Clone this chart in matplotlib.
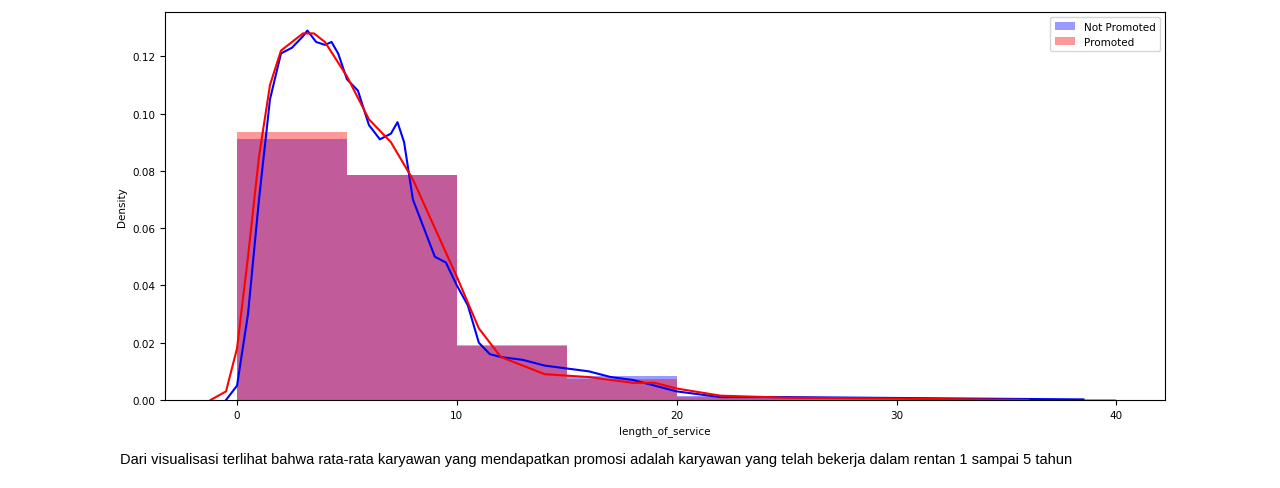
import matplotlib
matplotlib.use("Agg")
import matplotlib.pyplot as plt
import numpy as np

bin_edges = [0, 5, 10, 15, 20, 25, 30, 35, 40]
not_promoted_hist = [0.0912, 0.0787, 0.0190, 0.0085, 0.0013, 0.0009, 0.0005, 0.0002]
promoted_hist = [0.0935, 0.0787, 0.0192, 0.0072, 0.0012, 0.0006, 0.0002, 0.0]

np_kde_x = [-0.5, 0, 0.5, 1, 1.5, 2, 2.5, 3, 3.2, 3.6, 4, 4.3, 4.6, 5, 5.5, 6, 6.5, 7, 7.3,
            7.6, 8, 8.5, 9, 9.5, 10, 10.5, 11, 11.5, 12, 13, 14, 15, 16, 17, 18, 19, 20,
            22, 25, 30, 35, 38.5]
np_kde_y = [0.0, 0.005, 0.03, 0.07, 0.105, 0.121, 0.123, 0.127, 0.129, 0.125, 0.124, 0.125,
            0.121, 0.112, 0.108, 0.096, 0.091, 0.093, 0.097, 0.090, 0.070, 0.060, 0.050,
            0.048, 0.040, 0.033, 0.020, 0.016, 0.015, 0.014, 0.012, 0.011, 0.010, 0.008,
            0.007, 0.005, 0.003, 0.001, 0.001, 0.0007, 0.0004, 0.0002]
p_kde_x = [-1.2, -0.5, 0, 0.5, 1, 1.5, 2, 3, 3.5, 4, 5, 6, 7, 8, 9, 10, 11, 12, 13, 14, 15,
           16, 17, 18, 19, 20, 22, 25, 30, 36]
p_kde_y = [0.0, 0.003, 0.018, 0.05, 0.085, 0.11, 0.122, 0.128, 0.128, 0.125, 0.113, 0.098,
           0.090, 0.077, 0.060, 0.043, 0.025, 0.015, 0.012, 0.009, 0.0085, 0.008, 0.007,
           0.006, 0.006, 0.004, 0.0015, 0.0008, 0.0005, 0.0]

fig = plt.figure(figsize=(12.8, 4.89), dpi=100)
ax = fig.add_axes([0.129, 0.18, 0.781, 0.793])

lefts = bin_edges[:-1]
ax.bar(lefts, not_promoted_hist, width=5, align="edge", color="blue", alpha=0.4,
       label="Not Promoted")
ax.bar(lefts, promoted_hist, width=5, align="edge", color="red", alpha=0.4,
       label="Promoted")
ax.plot(np_kde_x, np_kde_y, color="blue", lw=1.5)
ax.plot(p_kde_x, p_kde_y, color="red", lw=1.5)

ax.set_xlim(-3.27, 42.2)
ax.set_ylim(0, 0.1354)
ax.set_xticks([0, 10, 20, 30, 40])
ax.set_yticks([0, 0.02, 0.04, 0.06, 0.08, 0.10, 0.12])
ax.set_yticklabels(["0.00", "0.02", "0.04", "0.06", "0.08", "0.10", "0.12"])
ax.tick_params(labelsize=7.5)
ax.set_xlabel("length_of_service", fontsize=7.5)
ax.set_ylabel("Density", fontsize=7.5)
ax.legend(loc="upper right", fontsize=7.5)

fig.text(120 / 1280, 1 - 460 / 489,
         "Dari visualisasi terlihat bahwa rata-rata karyawan yang mendapatkan promosi adalah karyawan yang telah bekerja dalam rentan 1 sampai 5 tahun",
         fontsize=10.5, family="Liberation Sans", va="center")

fig.savefig("out.png", dpi=100)
